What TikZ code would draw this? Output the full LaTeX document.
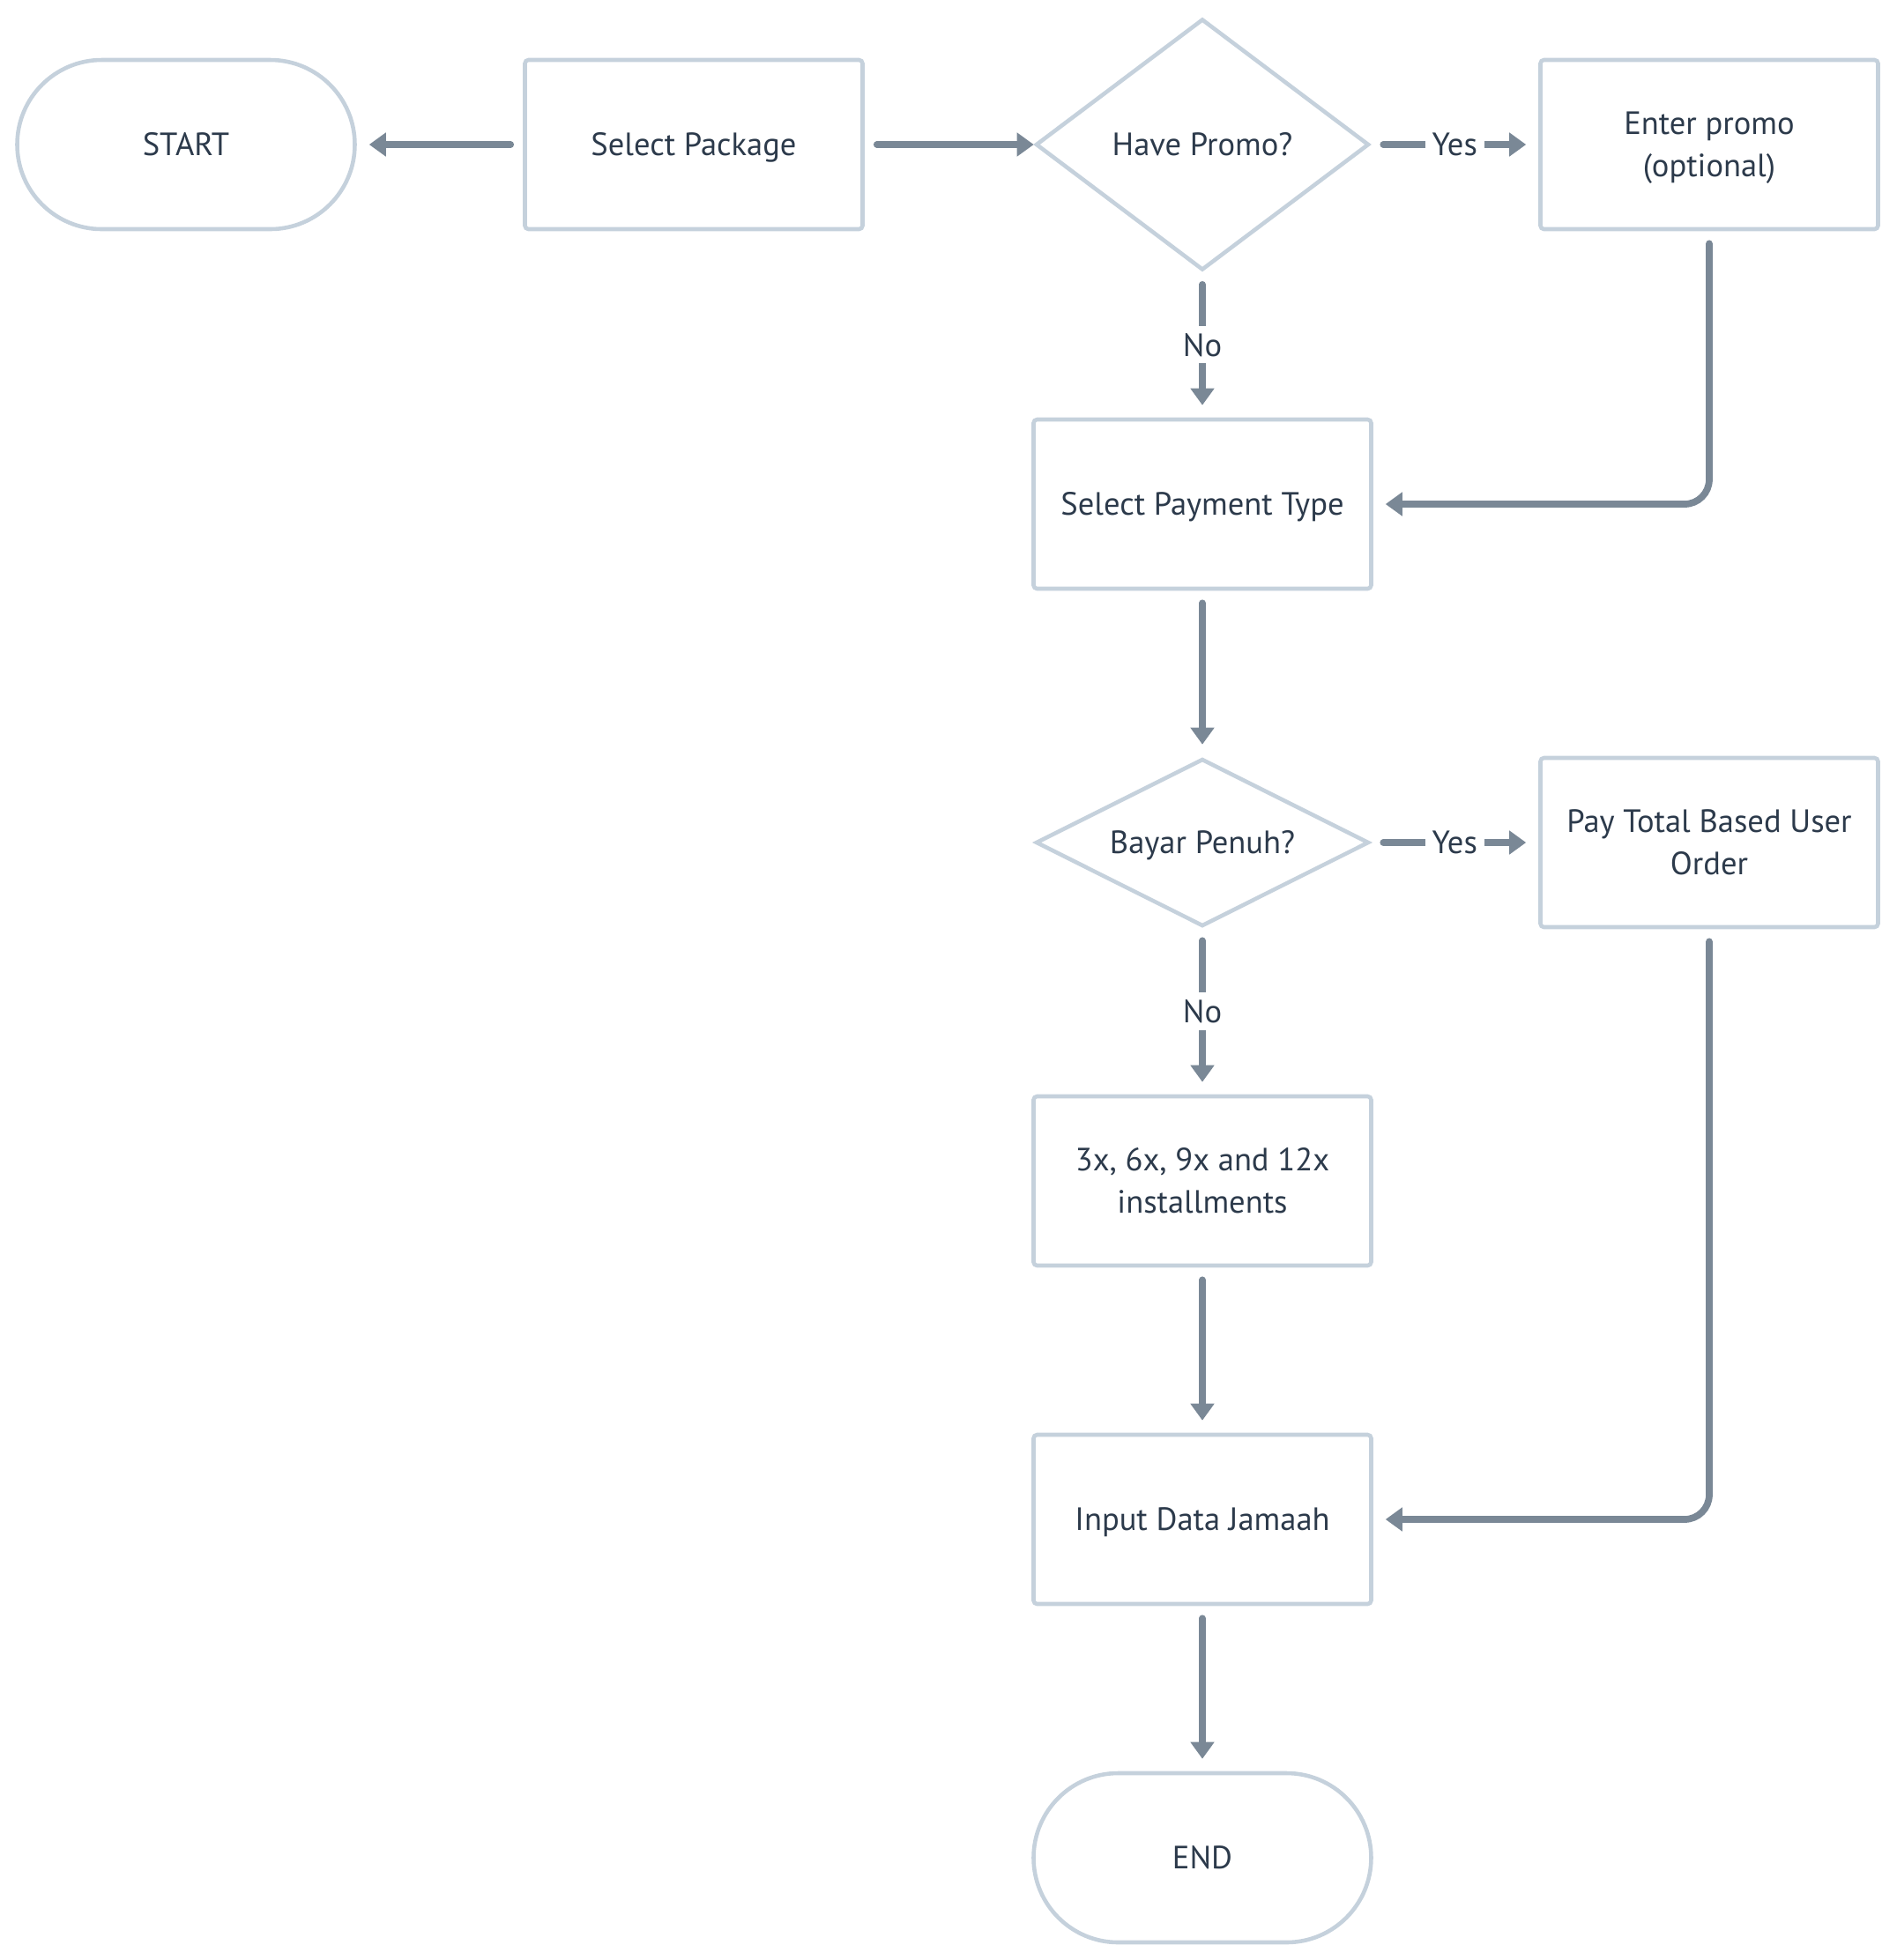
\documentclass[tikz,border=0pt]{standalone}
\usepackage{fontspec}
\setmainfont{PT Sans}
\usetikzlibrary{arrows.meta,shapes.geometric}
\definecolor{inkdark}{HTML}{2C3A4B}
\definecolor{edgegray}{HTML}{C5D1DC}
\definecolor{flowgray}{HTML}{7A8896}
\begin{document}
\begin{tikzpicture}[
    font=\fontsize{10.4}{13.7}\selectfont,
    base/.style={draw=edgegray, line width=1.3pt, text=inkdark, align=center, fill=white},
    oneline/.style={text height=0.7em, text depth=0pt},
    twoline/.style={text height=21pt, text depth=0pt},
    terminal/.style={base, oneline, rectangle, rounded corners=0.96cm, minimum width=3.83cm, minimum height=1.92cm},
    process/.style={base, rectangle, rounded corners=0.04cm, minimum width=3.83cm, minimum height=1.92cm},
    decision/.style={base, oneline, diamond, inner sep=0pt, minimum width=3.78cm},
    flow/.style={draw=flowgray, line width=2.2pt, line cap=round, -{Triangle[length=0.19cm, width=0.26cm]}, shorten <=0.14cm, shorten >=0.14cm},
    answer/.style={midway, fill=white, text=inkdark, inner sep=0.08cm}
]
    \useasboundingbox (0,0) rectangle (21.52,-22.24);

    % top row
    \node[terminal] (start) at (2.11,-1.64) {START};
    \node[process, oneline] (sel) at (7.87,-1.64) {Select Package};
    \node[decision, aspect=1.33, minimum height=2.85cm] (promo) at (13.64,-1.64) {Have Promo?};
    \node[process, twoline] (enter) at (19.39,-1.64) {Enter promo\\(optional)};

    % payment part
    \node[process, oneline] (paytype) at (13.64,-5.72) {Select Payment Type};
    \node[decision, aspect=2, minimum height=1.90cm] (bayar) at (13.64,-9.56) {Bayar Penuh?};
    \node[process, twoline] (full) at (19.39,-9.56) {Pay Total Based User\\Order};
    \node[process, twoline] (cicil) at (13.64,-13.40) {3x, 6x, 9x and 12x\\installments};

    % end part
    \node[process, oneline] (input) at (13.64,-17.24) {Input Data Jamaah};
    \node[terminal] (finish) at (13.64,-21.08) {END};

    % connectors
    \draw[flow] (sel) -- (start);
    \draw[flow, shorten >=0pt] (sel) -- (promo);
    \draw[flow] (promo) -- node[answer] {Yes} (enter);
    \draw[flow] (promo) -- node[answer] {No} (paytype);
    \draw[flow, rounded corners=0.28cm] (enter.south) |- (paytype.east);
    \draw[flow] (paytype) -- (bayar);
    \draw[flow] (bayar) -- node[answer] {Yes} (full);
    \draw[flow] (bayar) -- node[answer] {No} (cicil);
    \draw[flow, rounded corners=0.28cm] (full.south) |- (input.east);
    \draw[flow] (cicil) -- (input);
    \draw[flow] (input) -- (finish);
\end{tikzpicture}
\end{document}
